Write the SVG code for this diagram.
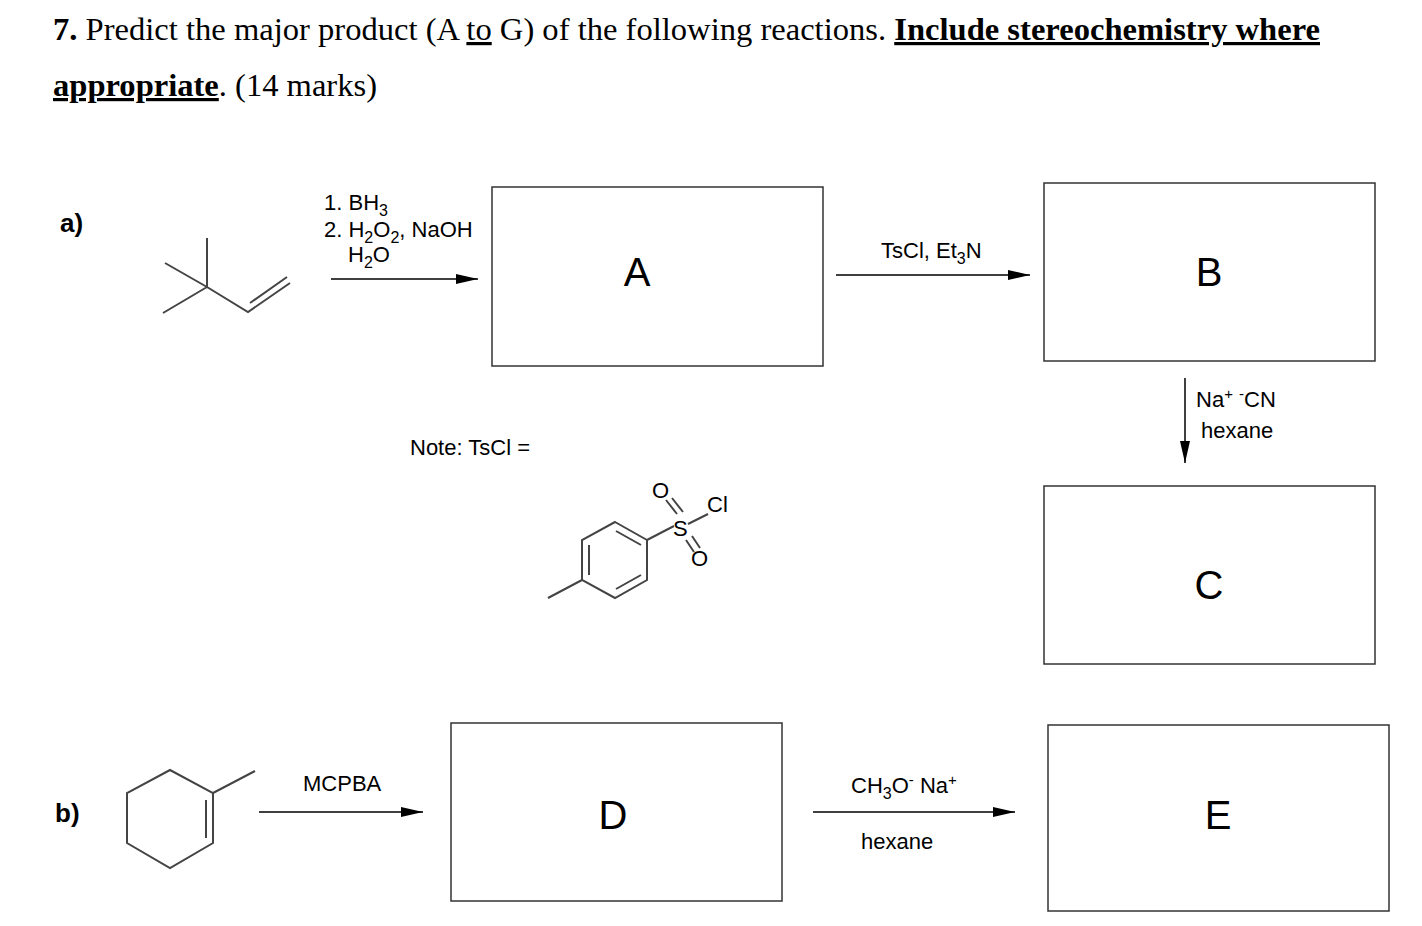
<svg xmlns="http://www.w3.org/2000/svg" width="1422" height="926" viewBox="0 0 1422 926">
<defs>
<marker id="ah" markerWidth="22" markerHeight="10" refX="22" refY="5" orient="auto" markerUnits="userSpaceOnUse"><path d="M0,0 L22,5 L0,10 Z" fill="#000"/></marker>
<style>
.t{font-family:"Liberation Serif",serif;font-size:32px;fill:#000}
.s{font-family:"Liberation Sans",Arial,sans-serif;font-size:22px;fill:#000}
.big{font-family:"Liberation Sans",Arial,sans-serif;font-size:40px;fill:#000}
.lbl{font-family:"Liberation Sans",Arial,sans-serif;font-size:26px;font-weight:bold;fill:#000}
.box{fill:#fff;stroke:#333;stroke-width:1.5}
.b{stroke:#444;stroke-width:2;fill:none}
.c{stroke:#000;stroke-width:1.5;fill:none;marker-end:url(#ah)}
</style>
</defs>
<rect width="1422" height="926" fill="#fff"/>
<text class="t" x="53" y="40" textLength="1267" lengthAdjust="spacingAndGlyphs"><tspan font-weight="bold">7.</tspan> Predict the major product (A <tspan text-decoration="underline">to</tspan> G) of the following reactions. <tspan font-weight="bold" text-decoration="underline">Include stereochemistry where</tspan></text>
<text class="t" x="53" y="96" textLength="324" lengthAdjust="spacingAndGlyphs"><tspan font-weight="bold" text-decoration="underline">appropriate</tspan>. (14 marks)</text>
<text class="lbl" x="60" y="232">a)</text>
<text class="lbl" x="55" y="822">b)</text>
<g id="alkene" class="b"><path d="M207,238 L207,287 M165,263 L207,287 L248,312 L290,283 M163,313 L207,287 M250,303 L287,277"/></g>
<g id="tscl">
<path class="b" d="M615,522 L647,540 L647,580 L615,598 L582,580 L582,540 Z M616,531 L641,545 M641,575 L616,589 M589,545 L589,575 M582,580 L548,598 M647,540 L674,526 M688,524 L708,514 M677,514 L666,500 M683,512 L672,498 M686,540 L694,552 M692,536 L700,548"/>
<text class="s" x="673" y="536">S</text>
<text class="s" x="652" y="498">O</text>
<text class="s" x="707" y="512">Cl</text>
<text class="s" x="691" y="566">O</text>
</g>
<g id="cyclohexene" class="b"><path d="M170,770 L213,793 L213,843 L170,868 L127,843 L127,793 Z M206,800 L206,838 M213,793 L255,771"/></g>
<g id="A"><rect class="box" x="492" y="187" width="331" height="179"/><text class="big" x="637" y="286" text-anchor="middle">A</text></g>
<g id="B"><rect class="box" x="1044" y="183" width="331" height="178"/><text class="big" x="1209" y="286" text-anchor="middle">B</text></g>
<g id="C"><rect class="box" x="1044" y="486" width="331" height="178"/><text class="big" x="1209" y="599" text-anchor="middle">C</text></g>
<g id="D"><rect class="box" x="451" y="723" width="331" height="178"/><text class="big" x="613" y="829" text-anchor="middle">D</text></g>
<g id="E"><rect class="box" x="1048" y="725" width="341" height="186"/><text class="big" x="1218" y="829" text-anchor="middle">E</text></g>
<g id="connectors">
<path class="c" d="M331,279 L478,279"/>
<path class="c" d="M836,275 L1030,275"/>
<path class="c" d="M1185,378 L1185,463"/>
<path class="c" d="M259,812 L423,812"/>
<path class="c" d="M813,812 L1015,812"/>
</g>
<g id="labels">
<text class="s" x="324" y="210">1. BH<tspan font-size="16" dy="6">3</tspan></text>
<text class="s" x="324" y="237">2. H<tspan font-size="16" dy="6">2</tspan><tspan dy="-6">O</tspan><tspan font-size="16" dy="6">2</tspan><tspan dy="-6">, NaOH</tspan></text>
<text class="s" x="348" y="262">H<tspan font-size="16" dy="6">2</tspan><tspan dy="-6">O</tspan></text>
<text class="s" x="881" y="258">TsCl, Et<tspan font-size="16" dy="6">3</tspan><tspan dy="-6">N</tspan></text>
<text class="s" x="1196" y="407">Na<tspan font-size="15" dy="-8">+</tspan><tspan dy="8"> </tspan><tspan font-size="15" dy="-8">-</tspan><tspan dy="8">CN</tspan></text>
<text class="s" x="1201" y="438">hexane</text>
<text class="s" x="410" y="455">Note: TsCl =</text>
<text class="s" x="303" y="791">MCPBA</text>
<text class="s" x="851" y="793">CH<tspan font-size="16" dy="6">3</tspan><tspan dy="-6">O</tspan><tspan font-size="15" dy="-8">-</tspan><tspan dy="8"> Na</tspan><tspan font-size="15" dy="-8">+</tspan></text>
<text class="s" x="861" y="849">hexane</text>
</g>
</svg>
